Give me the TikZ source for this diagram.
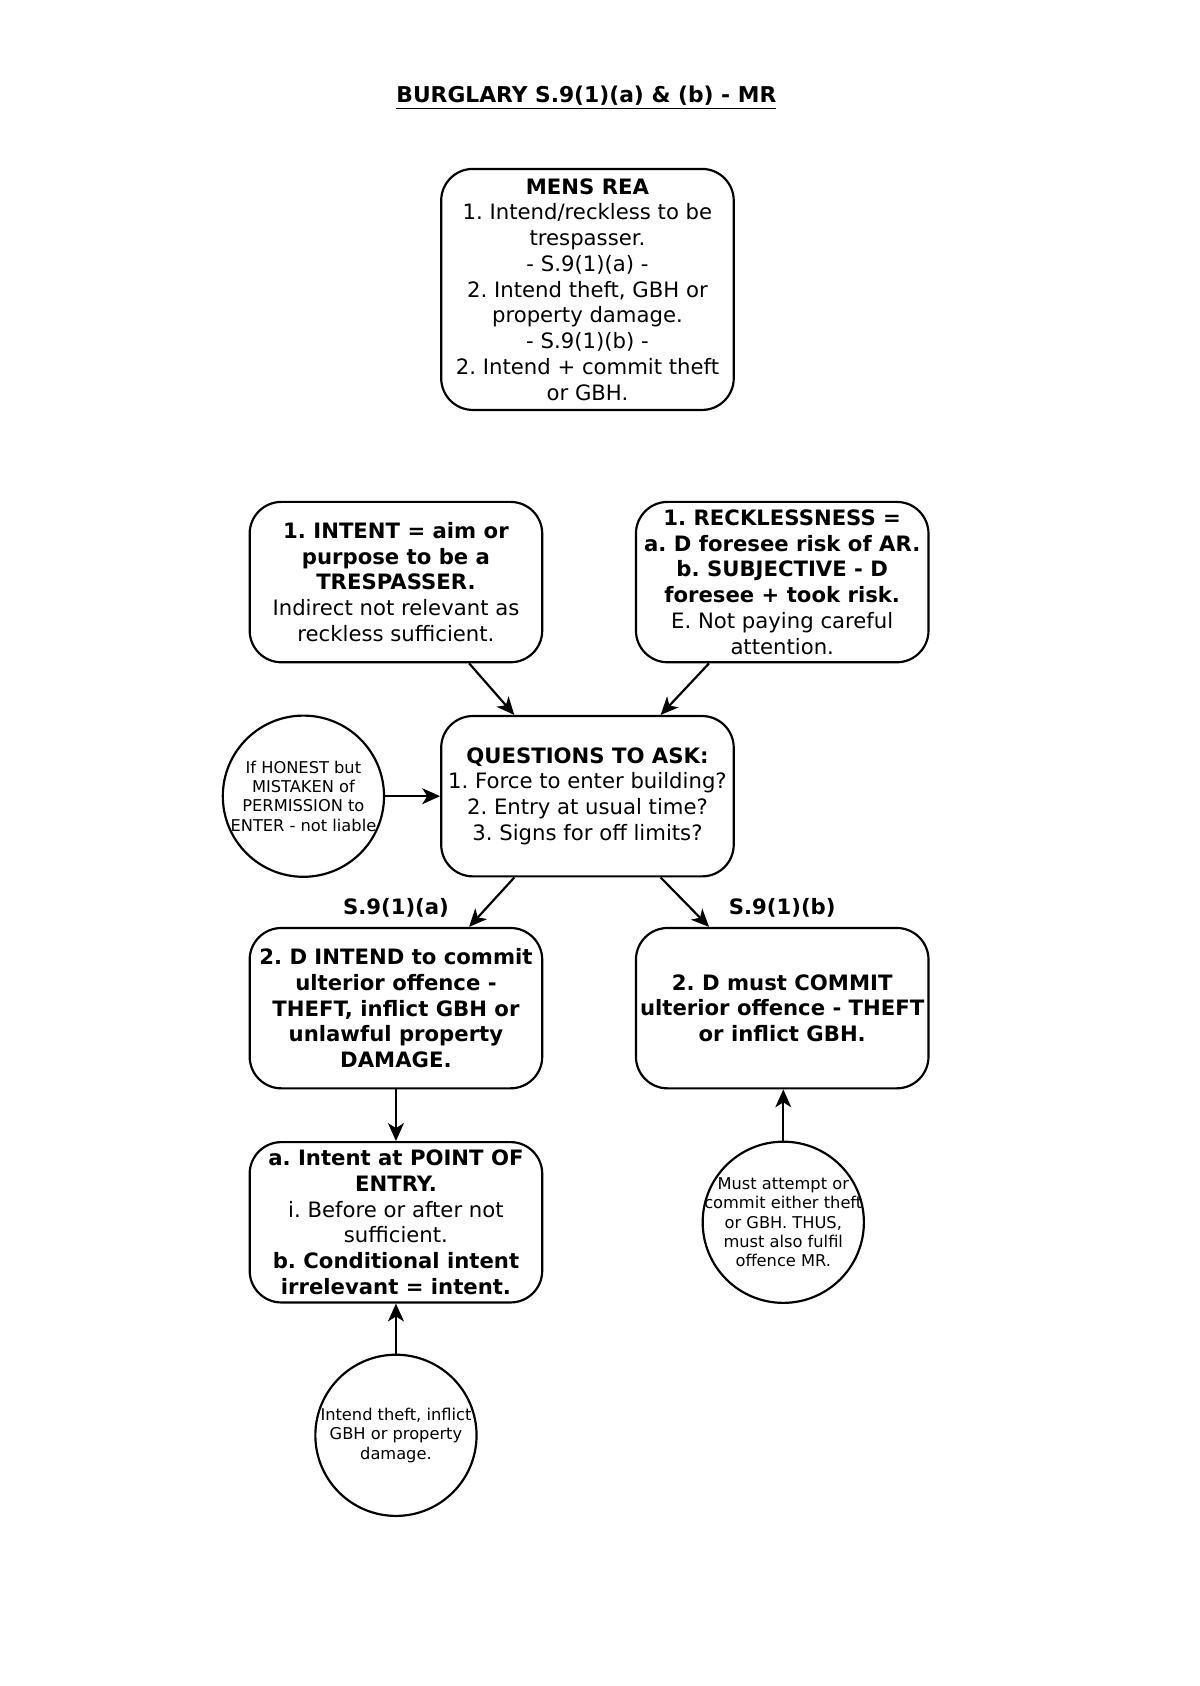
\documentclass[tikz,border=0pt]{standalone}
\usepackage{fontspec}
\setmainfont{DejaVu Sans}
\usepackage{tikz}
\usetikzlibrary{arrows.meta}
\frenchspacing

\begin{document}
\begin{tikzpicture}[x=0.01909cm, y=-0.01909cm, >={Stealth[length=9pt,width=8pt,inset=2.5pt]}, line width=1.1pt,
  box/.style={draw, rounded corners=16pt, align=center, minimum width=5.19cm, minimum height=2.845cm, inner sep=0pt, font=\fontsize{10.7}{13}\selectfont},
  note/.style={draw, circle, minimum size=2.86cm, inner sep=0pt},
  notetext/.style={align=center, font=\fontsize{8.2}{9.8}\selectfont},
  branch/.style={font=\bfseries\fontsize{10.7}{13}\selectfont}]
\useasboundingbox (0,0) rectangle (1115,1567);
\node[font=\bfseries\fontsize{11}{13}\selectfont] (title) at (545,91) {\underline{BURGLARY S.9(1)(a) \& (b) - MR}};
\node[box, minimum height=4.276cm] (mensrea) at (546,269) {\textbf{MENS REA}\\1. Intend/reckless to be\\trespasser.\\- S.9(1)(a) -\\2. Intend theft, GBH or\\property damage.\\- S.9(1)(b) -\\2. Intend + commit theft\\or GBH.};
\node[box] (intent) at (368,541) {\textbf{1. INTENT = aim or}\\\textbf{purpose to be a}\\\textbf{TRESPASSER.}\\Indirect not relevant as\\reckless sufficient.};
\node[box] (reckless) at (727,541) {\textbf{1. RECKLESSNESS =}\\\textbf{a. D foresee risk of AR.}\\\textbf{b. SUBJECTIVE - D}\\\textbf{foresee + took risk.}\\E. Not paying careful\\attention.};
\node[box] (questions) at (546,740) {\textbf{QUESTIONS TO ASK:}\\1. Force to enter building?\\2. Entry at usual time?\\3. Signs for off limits?};
\node[note] (honest) at (282,740) {};
\node[notetext] (honesttext) at (honest) {If HONEST but\\MISTAKEN of\\PERMISSION to\\ENTER - not liable};
\node[box] (intendoffence) at (368,937) {\textbf{2. D INTEND to commit}\\\textbf{ulterior offence -}\\\textbf{THEFT, inflict GBH or}\\\textbf{unlawful property}\\\textbf{DAMAGE.}};
\node[box] (commitoffence) at (727,937) {\textbf{2. D must COMMIT}\\\textbf{ulterior offence - THEFT}\\\textbf{or inflict GBH.}};
\node[branch] (branchA) at (368,844) {S.9(1)(a)};
\node[branch] (branchB) at (727,844) {S.9(1)(b)};
\node[box] (entry) at (368,1136) {\textbf{a. Intent at POINT OF}\\\textbf{ENTRY.}\\i. Before or after not\\sufficient.\\\textbf{b. Conditional intent}\\\textbf{irrelevant = intent.}};
\node[note] (attempt) at (728,1136) {};
\node[notetext] (attempttext) at (attempt) {Must attempt or\\commit either theft\\or GBH. THUS,\\must also fulfil\\offence MR.};
\node[note] (ulterior) at (368,1334) {};
\node[notetext] (ulteriortext) at (ulterior) {Intend theft, inflict\\GBH or property\\damage.};
\draw[->] ([xshift=1.298cm]intent.south) -- ([xshift=-1.298cm]questions.north);
\draw[->] ([xshift=-1.298cm]reckless.south) -- ([xshift=1.298cm]questions.north);
\draw[->] (honest) -- (questions);
\draw[->] ([xshift=-1.298cm]questions.south) -- ([xshift=1.298cm]intendoffence.north);
\draw[->] ([xshift=1.298cm]questions.south) -- ([xshift=-1.298cm]commitoffence.north);
\draw[->] (intendoffence) -- (entry);
\draw[->] (attempt) -- (attempt |- commitoffence.south);
\draw[->] (ulterior) -- (entry);
\end{tikzpicture}
\end{document}
